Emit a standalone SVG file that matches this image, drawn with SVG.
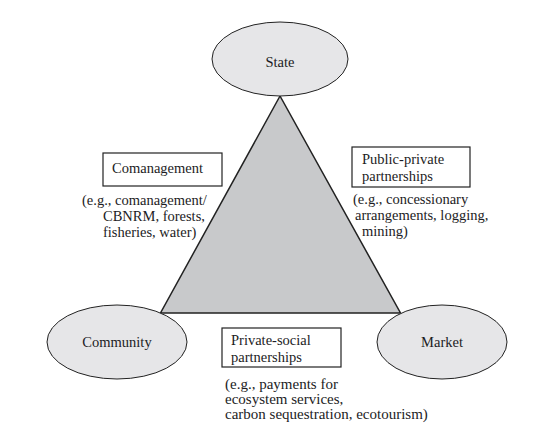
<svg xmlns="http://www.w3.org/2000/svg" width="546" height="426" viewBox="0 0 546 426">
<style>
.bg{fill:#ffffff}
.ell{fill:#e6e6e8;stroke:#222;stroke-width:1}
.tri{fill:#c8c9cb;stroke:#222;stroke-width:1.5}
.box{fill:#ffffff;stroke:#222;stroke-width:1.2}
.t{font-family:"Liberation Serif","Times New Roman",Times,serif;font-size:14.5px;fill:#1c1c24}
.e{font-size:15px}
.c{text-anchor:middle}
</style>
<rect class="bg" x="0" y="0" width="546" height="426"/>
<g id="connectors">
<polygon class="tri" points="280,96 160.5,313 400.5,313"/>
</g>
<g id="state">
<ellipse class="ell" cx="280" cy="59" rx="68" ry="37"/>
<text class="t c" x="280" y="67">State</text>
</g>
<g id="community">
<ellipse class="ell" cx="117" cy="342" rx="70" ry="37"/>
<text class="t c" x="117" y="347">Community</text>
</g>
<g id="market">
<ellipse class="ell" cx="442" cy="342" rx="65" ry="37"/>
<text class="t c" x="442" y="347">Market</text>
</g>
<g id="comanagement">
<rect class="box" x="103" y="153" width="119" height="33"/>
<text class="t" x="112" y="173">Comanagement</text>
<text class="t" x="82" y="205">(e.g., comanagement/</text>
<text class="t" x="103" y="221">CBNRM, forests,</text>
<text class="t" x="103" y="237">fisheries, water)</text>
</g>
<g id="public-private">
<rect class="box" x="352" y="147" width="118" height="40"/>
<text class="t" x="362" y="164">Public-private</text>
<text class="t" x="362" y="181">partnerships</text>
<text class="t" x="353" y="204">(e.g., concessionary</text>
<text class="t" x="355" y="220">arrangements, logging,</text>
<text class="t" x="362" y="236">mining)</text>
</g>
<g id="private-social">
<rect class="box" x="222" y="328" width="119" height="39"/>
<text class="t" x="231" y="345">Private-social</text>
<text class="t" x="231" y="362">partnerships</text>
<text class="t e" x="225" y="389">(e.g., payments for</text>
<text class="t e" x="225" y="404">ecosystem services,</text>
<text class="t e" x="225" y="419">carbon sequestration, ecotourism)</text>
</g>
</svg>
